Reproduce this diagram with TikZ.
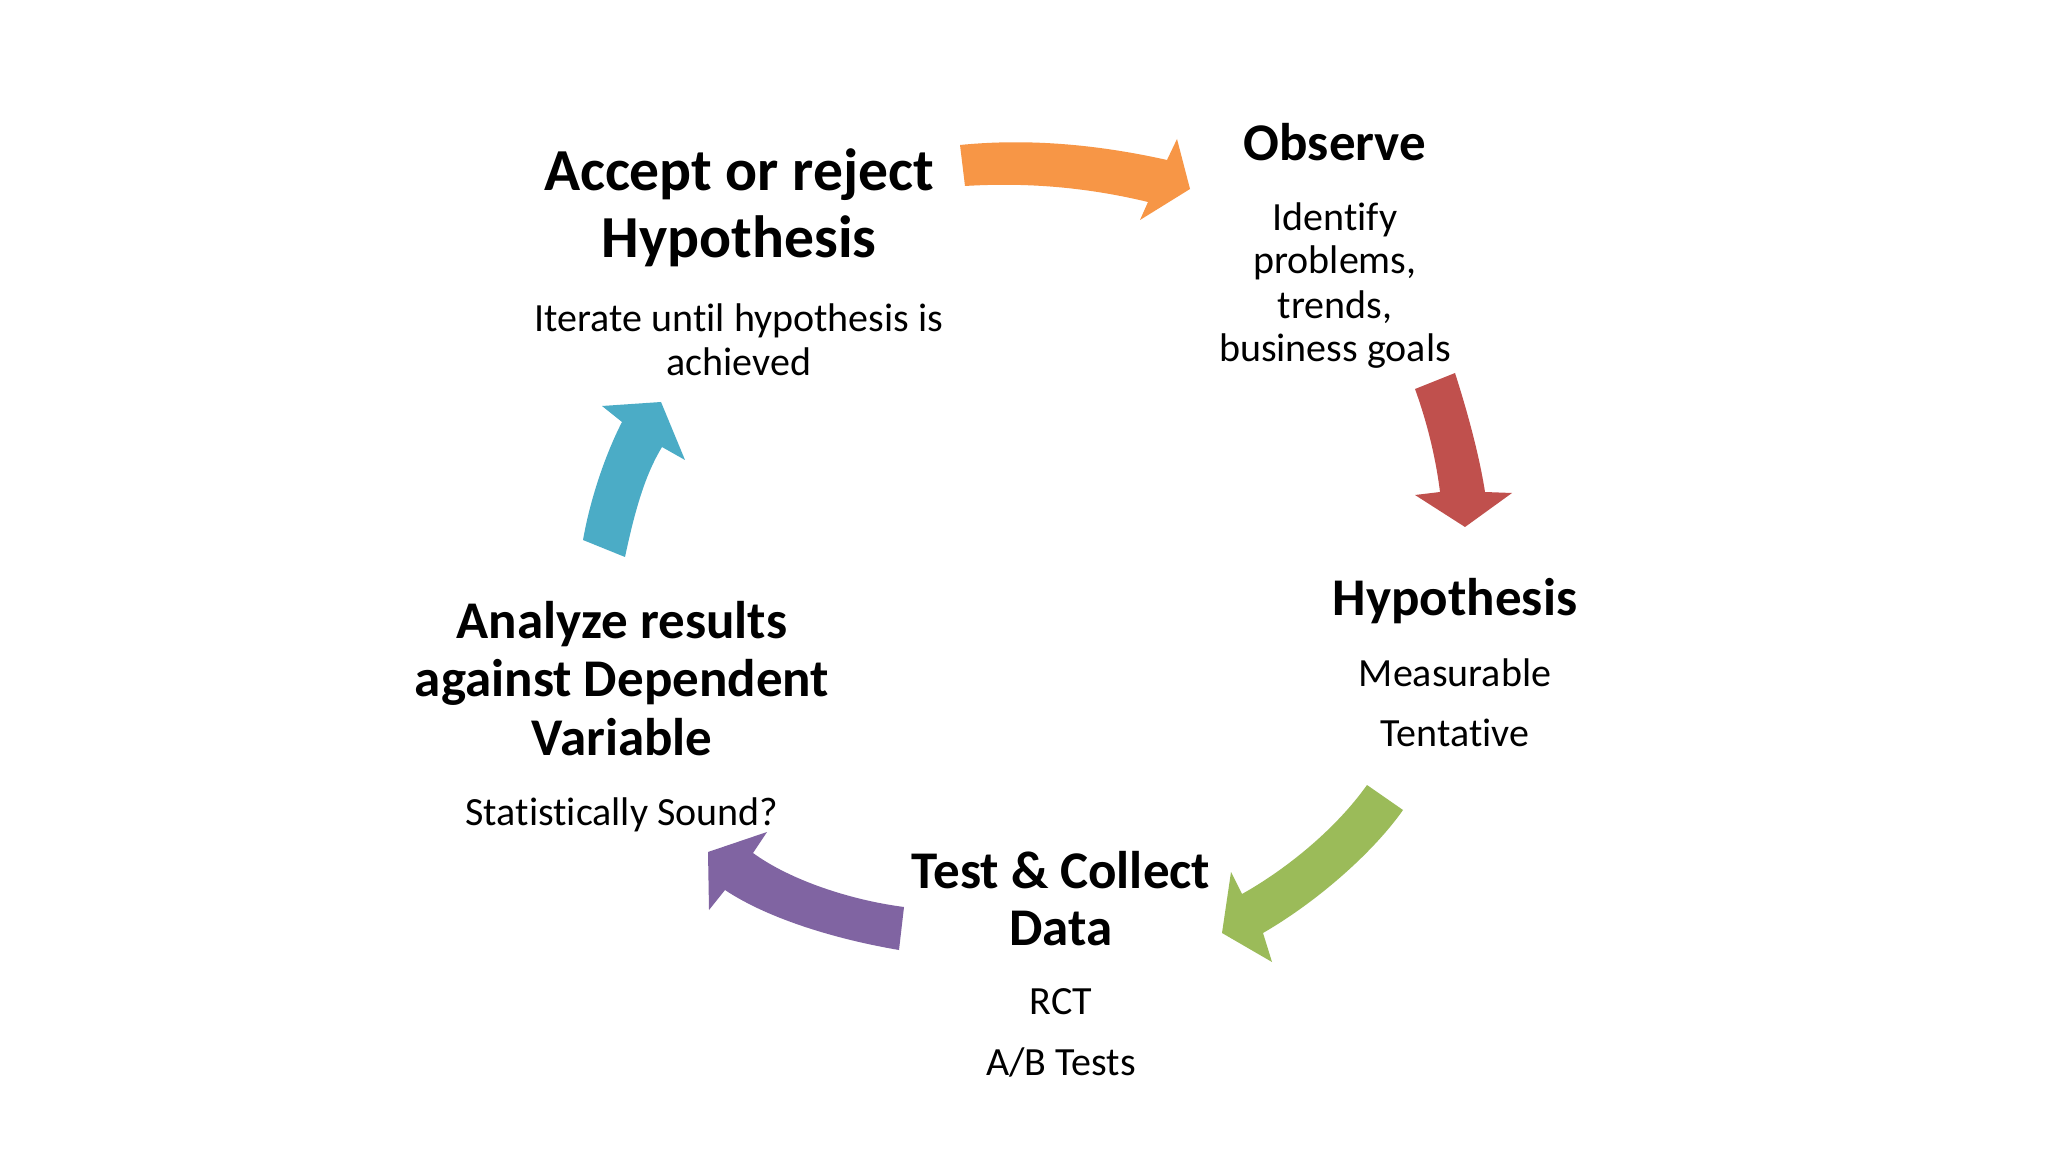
\documentclass[tikz,border=0pt]{standalone}
\usepackage{fontspec}
\setmainfont[Ligatures={NoCommon}]{Carlito}
\definecolor{aorange}{HTML}{F79646}
\definecolor{ared}{HTML}{C0504D}
\definecolor{agreen}{HTML}{9BBB59}
\definecolor{apurple}{HTML}{8064A2}
\definecolor{ablue}{HTML}{4BACC6}
\begin{document}
\begin{tikzpicture}[x=0.5bp,y=-0.5bp,
  bighead/.style={anchor=base,inner sep=0pt,font=\fontsize{29.8bp}{34bp}\selectfont\bfseries},
  head/.style={anchor=base,inner sep=0pt,font=\fontsize{26.5bp}{30bp}\selectfont\bfseries},
  sub/.style={anchor=base,inner sep=0pt,font=\fontsize{20bp}{24bp}\selectfont}]
\useasboundingbox (0,0) rectangle (2048,1152);
\fill[white] (0,0) rectangle (2048,1152);

% Orange arrow
\fill[aorange] (960,145) .. controls (1030,138) and (1100,145) .. (1167,160) -- (1177,139) -- (1190,189) -- (1140,220) -- (1148,202) .. controls (1090,188) and (1030,182) .. (965,186) -- cycle;
% Red arrow
\fill[ared] (1415,389) -- (1455,373) .. controls (1470,420) and (1480,460) .. (1485,492) -- (1512,493) -- (1465,527) -- (1415,495) -- (1440,492) .. controls (1436,460) and (1428,425) .. (1415,389) -- cycle;
% Green arrow
\fill[agreen] (1367,785) -- (1403,810) .. controls (1375,850) and (1320,900) .. (1263,933) -- (1272,962) -- (1222,933) -- (1231,872) -- (1242,894) .. controls (1285,870) and (1335,830) .. (1367,785) -- cycle;
% Purple arrow
\fill[apurple] (904,907) -- (899,950) .. controls (840,940) and (770,920) .. (725,890) -- (709,910) -- (708,852) -- (767,832) -- (753,853) .. controls (790,880) and (850,900) .. (904,907) -- cycle;
% Blue arrow
\fill[ablue] (583,540) -- (625,557) .. controls (635,510) and (645,475) .. (662,447) -- (685,460) -- (661,402) -- (602,406) -- (622,422) .. controls (605,455) and (590,500) .. (583,540) -- cycle;

% Accept or reject
\node[bighead] (acc1) at (739,191) {Accept or reject};
\node[bighead] (acc2) at (739,258) {Hypothesis};
\node[sub] (acc3) at (739,332) {Iterate until hypothesis is};
\node[sub] (acc4) at (739,376) {achieved};

% Observe
\node[head] (obs1) at (1335,161) {Observe};
\node[sub] (obs2) at (1335,231) {Identify};
\node[sub] (obs3) at (1335,274) {problems,};
\node[sub] (obs4) at (1335,319) {trends,};
\node[sub] (obs5) at (1335,362) {business goals};

% Hypothesis
\node[head] (hyp1) at (1455,615) {Hypothesis};
\node[sub] (hyp2) at (1455,686) {Measurable};
\node[sub] (hyp3) at (1455,746) {Tentative};

% Test & Collect Data
\node[head] (tst1) at (1061,888) {Test \& Collect};
\node[head] (tst2) at (1061,945) {Data};
\node[sub] (tst3) at (1061,1014) {RCT};
\node[sub] (tst4) at (1061,1075) {A/B Tests};

% Analyze
\node[head] (ana1) at (622,638) {Analyze results};
\node[head] (ana2) at (622,696) {against Dependent};
\node[head] (ana3) at (622,755) {Variable};
\node[sub] (ana4) at (622,825) {Statistically Sound?};
\end{tikzpicture}
\end{document}
